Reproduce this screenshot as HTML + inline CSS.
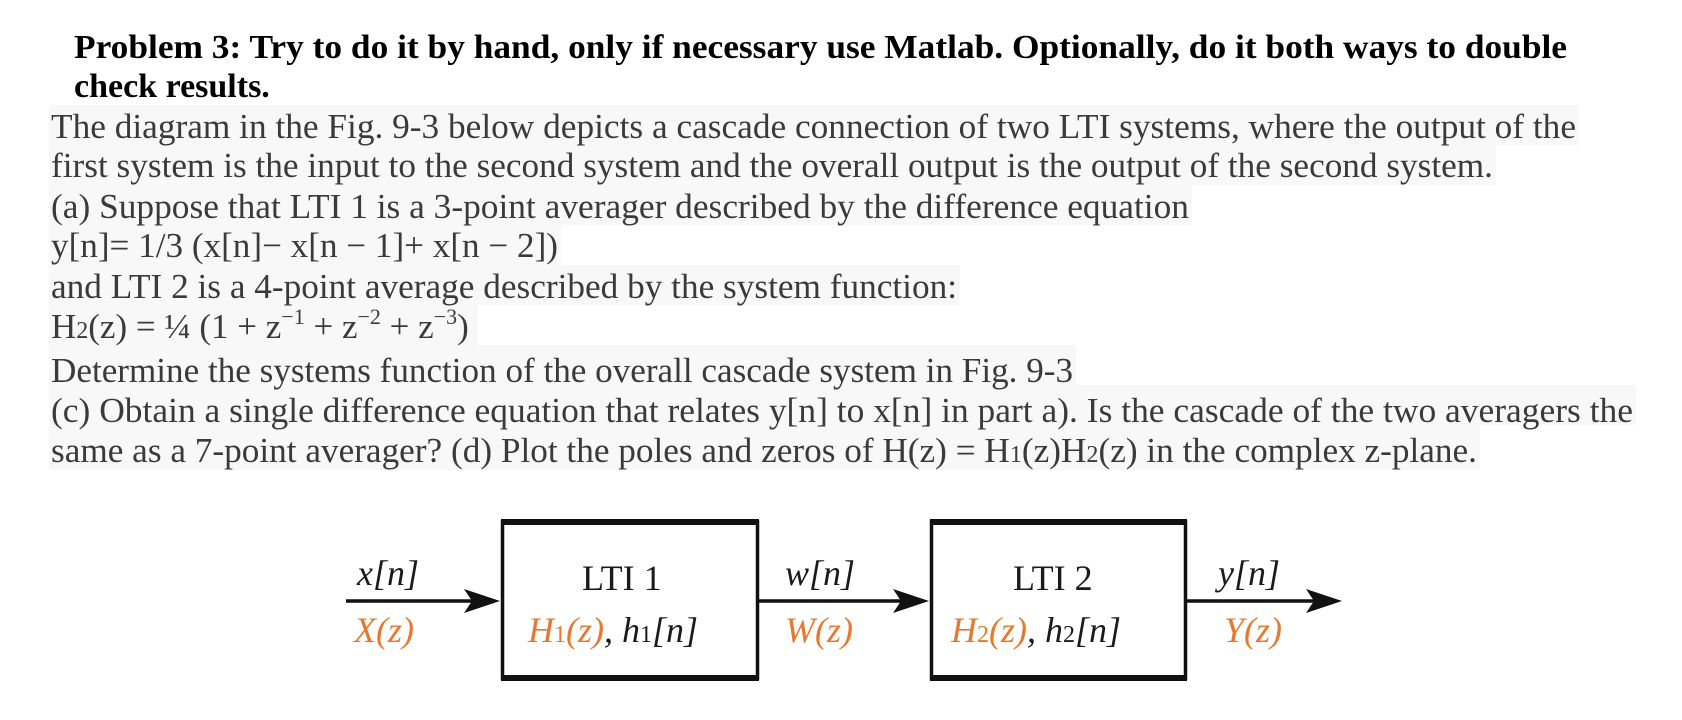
<!DOCTYPE html>
<html><head><meta charset="utf-8"><style>
html,body{margin:0;padding:0;background:#fff;width:1682px;height:720px;overflow:hidden}
svg{display:block}
.t{font-family:"Liberation Serif",serif;font-weight:bold;font-size:34px;fill:#000}
.b{font-family:"Liberation Serif",serif;font-size:35px;fill:#3a3a3a}
.d{font-family:"Liberation Serif",serif;font-size:36px;fill:#1a1a1a}
.i{font-style:italic}
.o{fill:#e8782e}
</style></head><body>
<svg width="1682" height="720" viewBox="0 0 1682 720" xmlns="http://www.w3.org/2000/svg">
<g fill="#f8f8f8">
<rect x="49" y="105" width="1530" height="40"/>
<rect x="49" y="145" width="1447" height="40"/>
<rect x="49" y="185" width="1143" height="40"/>
<rect x="49" y="225" width="512" height="40"/>
<rect x="49" y="265" width="911" height="40"/>
<rect x="49" y="305" width="429" height="40"/>
<rect x="49" y="345" width="1027" height="40"/>
<rect x="49" y="385" width="1587" height="40"/>
<rect x="49" y="425" width="1431" height="45"/>
</g>
<text class="t" x="74" y="58" textLength="1493" lengthAdjust="spacingAndGlyphs">Problem 3: Try to do it by hand, only if necessary use Matlab. Optionally, do it both ways to double</text>
<text class="t" x="74" y="97">check results.</text>
<text class="b" x="51" y="138" textLength="1525" lengthAdjust="spacingAndGlyphs">The diagram in the Fig. 9-3 below depicts a cascade connection of two LTI systems, where the output of the</text>
<text class="b" x="51" y="177" textLength="1442" lengthAdjust="spacingAndGlyphs">first system is the input to the second system and the overall output is the output of the second system.</text>
<text class="b" x="51" y="218" textLength="1138" lengthAdjust="spacingAndGlyphs">(a) Suppose that LTI 1 is a 3-point averager described by the difference equation</text>
<text class="b" x="51" y="257" textLength="507" lengthAdjust="spacingAndGlyphs">y[n]= 1/3 (x[n]− x[n − 1]+ x[n − 2])</text>
<text class="b" x="51" y="298" textLength="906" lengthAdjust="spacingAndGlyphs">and LTI 2 is a 4-point average described by the system function:</text>
<text class="b" x="51" y="338">H<tspan font-size="24">2</tspan>(z) = ¼  (1 + z<tspan font-size="22" dy="-14">−1</tspan><tspan dy="14"> + z</tspan><tspan font-size="22" dy="-14">−2</tspan><tspan dy="14"> + z</tspan><tspan font-size="22" dy="-14">−3</tspan><tspan dy="14">)</tspan></text>
<text class="b" x="51" y="382" textLength="1022" lengthAdjust="spacingAndGlyphs">Determine the systems function of the overall cascade system in Fig. 9-3</text>
<text class="b" x="51" y="422" textLength="1582" lengthAdjust="spacingAndGlyphs">(c) Obtain a single difference equation that relates y[n] to x[n] in part a).  Is the cascade of the two averagers the</text>
<text class="b" x="51" y="462" textLength="1426" lengthAdjust="spacingAndGlyphs">same as a 7-point averager? (d) Plot the poles and zeros of H(z) = H<tspan font-size="24">1</tspan>(z)H<tspan font-size="24">2</tspan>(z) in the complex z-plane.</text>

<!-- boxes -->
<g fill="none" stroke="#111">
<rect x="502.5" y="522" width="255" height="156" stroke-width="3.5"/>
<line x1="501" y1="522" x2="759" y2="522" stroke-width="6"/>
<line x1="501" y1="678" x2="759" y2="678" stroke-width="6"/>
<rect x="931.5" y="522" width="254" height="156" stroke-width="3.5"/>
<line x1="930" y1="522" x2="1187" y2="522" stroke-width="6"/>
<line x1="930" y1="678" x2="1187" y2="678" stroke-width="6"/>
<line x1="346" y1="601" x2="480" y2="601" stroke-width="3.5"/>
<line x1="759" y1="601" x2="910" y2="601" stroke-width="3.5"/>
<line x1="1187" y1="601" x2="1320" y2="601" stroke-width="3.5"/>
</g>
<g fill="#111">
<path d="M500 601 L464 589 L472 601 L464 613 Z"/>
<path d="M929 601 L893 589 L901 601 L893 613 Z"/>
<path d="M1342 601 L1306 589 L1314 601 L1306 613 Z"/>
</g>
<text class="d i" x="357" y="585">x[n]</text>
<text class="d i o" x="354" y="642">X(z)</text>
<text class="d" x="582" y="590">LTI 1</text>
<text class="d i" x="528" y="642"><tspan class="o">H<tspan font-size="24" font-style="normal">1</tspan>(z)</tspan>, h<tspan font-size="24" font-style="normal">1</tspan>[n]</text>
<text class="d i" x="785" y="585">w[n]</text>
<text class="d i o" x="785" y="642">W(z)</text>
<text class="d" x="1013" y="590">LTI 2</text>
<text class="d i" x="951" y="642"><tspan class="o">H<tspan font-size="24" font-style="normal">2</tspan>(z)</tspan>, h<tspan font-size="24" font-style="normal">2</tspan>[n]</text>
<text class="d i" x="1218" y="585">y[n]</text>
<text class="d i o" x="1224" y="642">Y(z)</text>
</svg>
</body></html>
